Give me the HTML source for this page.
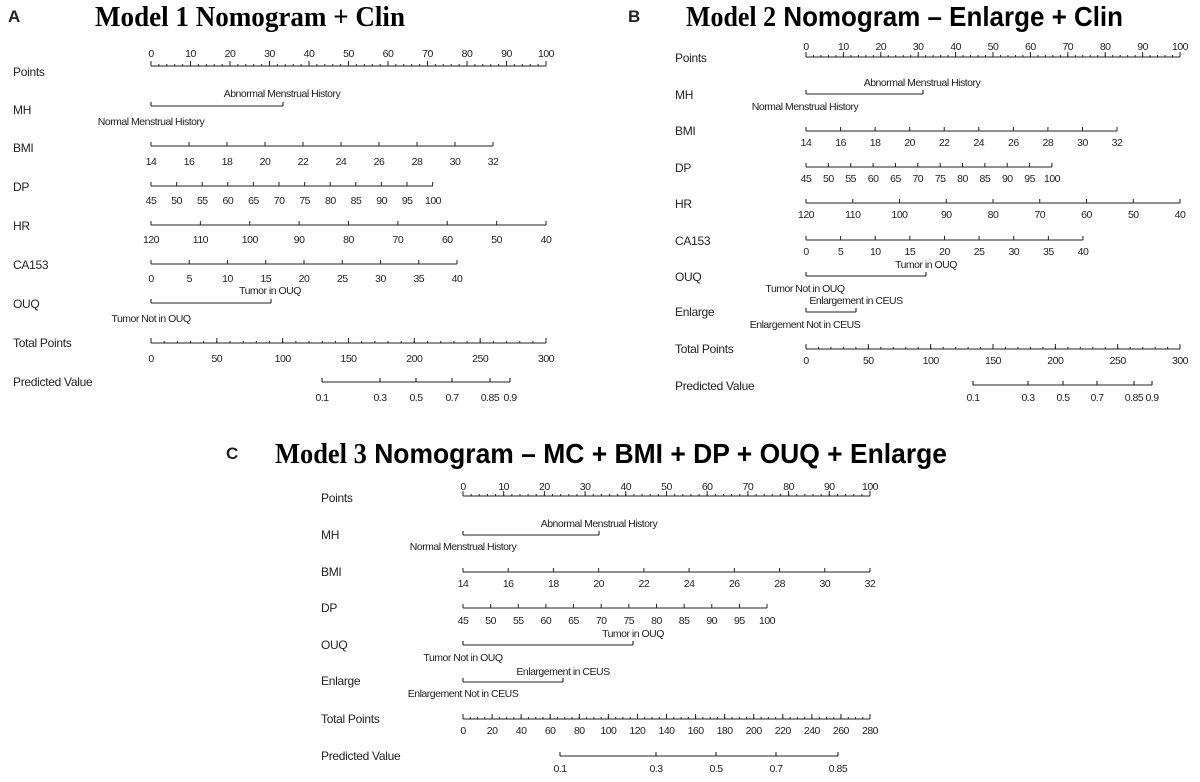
<!DOCTYPE html>
<html><head><meta charset="utf-8"><style>
html,body{margin:0;padding:0;background:#fff}
svg{display:block}
text{font-family:"Liberation Sans",sans-serif;fill:#222}
.t{font-size:10.5px;text-anchor:middle;letter-spacing:-0.5px}
.r{font-size:12px;letter-spacing:-0.3px}
.l{stroke:#222;stroke-width:1.1;fill:none}
</style></head><body>
<svg width="1200" height="782" viewBox="0 0 1200 782" xmlns="http://www.w3.org/2000/svg">
<!-- Panel A -->
<text x="8" y="22" style="font-size:17px;font-weight:bold">A</text>
<text x="95" y="26" textLength="310" lengthAdjust="spacingAndGlyphs" style="font-family:'Liberation Serif',serif;font-size:28px;font-weight:bold;fill:#000">Model 1 Nomogram + Clin</text>
<g class="r"><text x="13" y="76">Points</text><text x="13" y="114">MH</text><text x="13" y="152">BMI</text><text x="13" y="191">DP</text><text x="13" y="230">HR</text><text x="13" y="269">CA153</text><text x="13" y="308">OUQ</text><text x="13" y="347">Total Points</text><text x="13" y="386">Predicted Value</text></g>
<g class="l">
<path d="M151 66H546M151 106H283M151 146H493M151 186H433M151 225H546M151 264H457M151 303H271M151 343H546M322 382H510"/>
<path d="M150.5 63.5H546.5" stroke-width="5" stroke-dasharray="1 38.5"/>
<path d="M150.5 65H546.5" stroke-width="2" stroke-dasharray="1 6.9"/>
<path d="M151 102V106M283 102V106M151 299V303M271 299V303"/>
<path d="M150.5 144H493.5" stroke-width="4" stroke-dasharray="1 37"/>
<path d="M150.5 184H433.5" stroke-width="4" stroke-dasharray="1 24.6"/>
<path d="M150.5 223H546.5" stroke-width="4" stroke-dasharray="1 48.375"/>
<path d="M150.5 262H457.5" stroke-width="4" stroke-dasharray="1 37.25"/>
<path d="M150.5 340.5H546.5" stroke-width="5" stroke-dasharray="1 64.83"/>
<path d="M150.5 342H546.5" stroke-width="2" stroke-dasharray="1 12.17"/>
<path d="M322 378V382M380 378V382M416 378V382M452 378V382M490 378V382M510 378V382"/>
</g>
<g class="t">
<text x="151" y="57">0</text><text x="190.5" y="57">10</text><text x="230" y="57">20</text><text x="269.5" y="57">30</text><text x="309" y="57">40</text><text x="348.5" y="57">50</text><text x="388" y="57">60</text><text x="427.5" y="57">70</text><text x="467" y="57">80</text><text x="506.5" y="57">90</text><text x="546" y="57">100</text>
<text x="282" y="97">Abnormal Menstrual History</text><text x="151" y="125">Normal Menstrual History</text>
<text x="151" y="165">14</text><text x="189" y="165">16</text><text x="227" y="165">18</text><text x="265" y="165">20</text><text x="303" y="165">22</text><text x="341" y="165">24</text><text x="379" y="165">26</text><text x="417" y="165">28</text><text x="455" y="165">30</text><text x="493" y="165">32</text>
<text x="151" y="204">45</text><text x="176.6" y="204">50</text><text x="202.3" y="204">55</text><text x="227.9" y="204">60</text><text x="253.5" y="204">65</text><text x="279.1" y="204">70</text><text x="304.7" y="204">75</text><text x="330.4" y="204">80</text><text x="356" y="204">85</text><text x="381.6" y="204">90</text><text x="407.2" y="204">95</text><text x="433" y="204">100</text>
<text x="151" y="243">120</text><text x="200.4" y="243">110</text><text x="249.8" y="243">100</text><text x="299.1" y="243">90</text><text x="348.5" y="243">80</text><text x="397.9" y="243">70</text><text x="447.3" y="243">60</text><text x="496.6" y="243">50</text><text x="546" y="243">40</text>
<text x="151" y="282">0</text><text x="189.3" y="282">5</text><text x="227.5" y="282">10</text><text x="265.8" y="282">15</text><text x="304" y="282">20</text><text x="342.3" y="282">25</text><text x="380.5" y="282">30</text><text x="418.8" y="282">35</text><text x="457" y="282">40</text>
<text x="270" y="294">Tumor in OUQ</text><text x="151" y="322">Tumor Not in OUQ</text>
<text x="151" y="362">0</text><text x="216.8" y="362">50</text><text x="282.7" y="362">100</text><text x="348.5" y="362">150</text><text x="414.3" y="362">200</text><text x="480.2" y="362">250</text><text x="546" y="362">300</text>
<text x="322" y="401">0.1</text><text x="380" y="401">0.3</text><text x="416" y="401">0.5</text><text x="452" y="401">0.7</text><text x="490" y="401">0.85</text><text x="510" y="401">0.9</text>
</g>
<!-- Panel B -->
<text x="628" y="22" style="font-size:17px;font-weight:bold">B</text>
<text x="686" y="26" textLength="437" lengthAdjust="spacingAndGlyphs" style="font-size:28px;font-weight:bold;fill:#000"><tspan style="font-family:'Liberation Serif',serif">Model 2</tspan> Nomogram – Enlarge + Clin</text>
<g class="r"><text x="675" y="62">Points</text><text x="675" y="99">MH</text><text x="675" y="135">BMI</text><text x="675" y="172">DP</text><text x="675" y="208">HR</text><text x="675" y="245">CA153</text><text x="675" y="281">OUQ</text><text x="675" y="316">Enlarge</text><text x="675" y="353">Total Points</text><text x="675" y="390">Predicted Value</text></g>
<g class="l">
<path d="M806 57H1180M806 94H923M806 131H1117M806 167H1052M806 203H1180M806 240H1083M806 276H926M806 312H856M806 349H1180M973 385H1152"/>
<path d="M805.5 54.5H1180.5" stroke-width="5" stroke-dasharray="1 36.4"/>
<path d="M805.5 56H1180.5" stroke-width="2" stroke-dasharray="1 6.48"/>
<path d="M806 90V94M923 90V94M806 272V276M926 272V276M806 308V312M856 308V312"/>
<path d="M805.5 129H1117.5" stroke-width="4" stroke-dasharray="1 33.56"/>
<path d="M805.5 165H1052.5" stroke-width="4" stroke-dasharray="1 21.36"/>
<path d="M805.5 201H1180.5" stroke-width="4" stroke-dasharray="1 45.75"/>
<path d="M805.5 238H1083.5" stroke-width="4" stroke-dasharray="1 33.625"/>
<path d="M805.5 346.5H1180.5" stroke-width="5" stroke-dasharray="1 61.33"/>
<path d="M805.5 348H1180.5" stroke-width="2" stroke-dasharray="1 11.47"/>
<path d="M973 381V385M1028 381V385M1063 381V385M1097 381V385M1134 381V385M1152 381V385"/>
</g>
<g class="t">
<text x="806" y="50">0</text><text x="843.4" y="50">10</text><text x="880.8" y="50">20</text><text x="918.2" y="50">30</text><text x="955.6" y="50">40</text><text x="993" y="50">50</text><text x="1030.4" y="50">60</text><text x="1067.8" y="50">70</text><text x="1105.2" y="50">80</text><text x="1142.6" y="50">90</text><text x="1180" y="50">100</text>
<text x="922" y="86">Abnormal Menstrual History</text><text x="805" y="110">Normal Menstrual History</text>
<text x="806" y="146">14</text><text x="840.6" y="146">16</text><text x="875.1" y="146">18</text><text x="909.7" y="146">20</text><text x="944.2" y="146">22</text><text x="978.8" y="146">24</text><text x="1013.4" y="146">26</text><text x="1047.9" y="146">28</text><text x="1082.5" y="146">30</text><text x="1117" y="146">32</text>
<text x="806" y="182">45</text><text x="828.4" y="182">50</text><text x="850.7" y="182">55</text><text x="873.1" y="182">60</text><text x="895.5" y="182">65</text><text x="917.8" y="182">70</text><text x="940.2" y="182">75</text><text x="962.5" y="182">80</text><text x="984.9" y="182">85</text><text x="1007.3" y="182">90</text><text x="1029.6" y="182">95</text><text x="1052" y="182">100</text>
<text x="806" y="218">120</text><text x="852.8" y="218">110</text><text x="899.5" y="218">100</text><text x="946.3" y="218">90</text><text x="993" y="218">80</text><text x="1039.8" y="218">70</text><text x="1086.5" y="218">60</text><text x="1133.3" y="218">50</text><text x="1180" y="218">40</text>
<text x="806" y="255">0</text><text x="840.6" y="255">5</text><text x="875.3" y="255">10</text><text x="909.9" y="255">15</text><text x="944.5" y="255">20</text><text x="979.1" y="255">25</text><text x="1013.8" y="255">30</text><text x="1048.4" y="255">35</text><text x="1083" y="255">40</text>
<text x="926" y="268">Tumor in OUQ</text><text x="805" y="292">Tumor Not in OUQ</text>
<text x="856" y="304">Enlargement in CEUS</text><text x="805" y="328">Enlargement Not in CEUS</text>
<text x="806" y="364">0</text><text x="868.3" y="364">50</text><text x="930.7" y="364">100</text><text x="993" y="364">150</text><text x="1055.3" y="364">200</text><text x="1117.7" y="364">250</text><text x="1180" y="364">300</text>
<text x="973" y="401">0.1</text><text x="1028" y="401">0.3</text><text x="1063" y="401">0.5</text><text x="1097" y="401">0.7</text><text x="1134" y="401">0.85</text><text x="1152" y="401">0.9</text>
</g>
<!-- Panel C -->
<text x="226" y="459" style="font-size:17px;font-weight:bold">C</text>
<text x="275" y="463" textLength="672" lengthAdjust="spacingAndGlyphs" style="font-size:28px;font-weight:bold;fill:#000"><tspan style="font-family:'Liberation Serif',serif">Model 3</tspan> Nomogram – MC + BMI + DP + OUQ + Enlarge</text>
<g class="r"><text x="321" y="502">Points</text><text x="321" y="539">MH</text><text x="321" y="576">BMI</text><text x="321" y="612">DP</text><text x="321" y="649">OUQ</text><text x="321" y="685">Enlarge</text><text x="321" y="723">Total Points</text><text x="321" y="760">Predicted Value</text></g>
<g class="l">
<path d="M463 496H870M463 535H599M463 572H870M463 608H767M463 645H633M463 682H563M463 719H870M560 756H838"/>
<path d="M462.5 493.5H870.5" stroke-width="5" stroke-dasharray="1 39.7"/>
<path d="M462.5 495H870.5" stroke-width="2" stroke-dasharray="1 7.14"/>
<path d="M463 531V535M599 531V535M463 641V645M633 641V645M463 678V682M563 678V682"/>
<path d="M462.5 570H870.5" stroke-width="4" stroke-dasharray="1 44.22"/>
<path d="M462.5 606H767.5" stroke-width="4" stroke-dasharray="1 26.64"/>
<path d="M462.5 716.5H870.5" stroke-width="5" stroke-dasharray="1 28.07"/>
<path d="M462.5 718H870.5" stroke-width="2" stroke-dasharray="1 6.27"/>
<path d="M560 752V756M656 752V756M716 752V756M776 752V756M838 752V756"/>
</g>
<g class="t">
<text x="463" y="490">0</text><text x="503.7" y="490">10</text><text x="544.4" y="490">20</text><text x="585.1" y="490">30</text><text x="625.8" y="490">40</text><text x="666.5" y="490">50</text><text x="707.2" y="490">60</text><text x="747.9" y="490">70</text><text x="788.6" y="490">80</text><text x="829.3" y="490">90</text><text x="870" y="490">100</text>
<text x="599" y="527">Abnormal Menstrual History</text><text x="463" y="550">Normal Menstrual History</text>
<text x="463" y="587">14</text><text x="508.2" y="587">16</text><text x="553.4" y="587">18</text><text x="598.7" y="587">20</text><text x="643.9" y="587">22</text><text x="689.1" y="587">24</text><text x="734.3" y="587">26</text><text x="779.6" y="587">28</text><text x="824.8" y="587">30</text><text x="870" y="587">32</text>
<text x="463" y="624">45</text><text x="490.6" y="624">50</text><text x="518.3" y="624">55</text><text x="545.9" y="624">60</text><text x="573.5" y="624">65</text><text x="601.2" y="624">70</text><text x="628.8" y="624">75</text><text x="656.5" y="624">80</text><text x="684.1" y="624">85</text><text x="711.7" y="624">90</text><text x="739.4" y="624">95</text><text x="767" y="624">100</text>
<text x="633" y="637">Tumor in OUQ</text><text x="463" y="661">Tumor Not in OUQ</text>
<text x="563" y="675">Enlargement in CEUS</text><text x="463" y="697">Enlargement Not in CEUS</text>
<text x="463" y="734">0</text><text x="492.1" y="734">20</text><text x="521.1" y="734">40</text><text x="550.2" y="734">60</text><text x="579.3" y="734">80</text><text x="608.4" y="734">100</text><text x="637.4" y="734">120</text><text x="666.5" y="734">140</text><text x="695.6" y="734">160</text><text x="724.6" y="734">180</text><text x="753.7" y="734">200</text><text x="782.8" y="734">220</text><text x="811.9" y="734">240</text><text x="840.9" y="734">260</text><text x="870" y="734">280</text>
<text x="560" y="772">0.1</text><text x="656" y="772">0.3</text><text x="716" y="772">0.5</text><text x="776" y="772">0.7</text><text x="838" y="772">0.85</text>
</g>
</svg>
</body></html>
